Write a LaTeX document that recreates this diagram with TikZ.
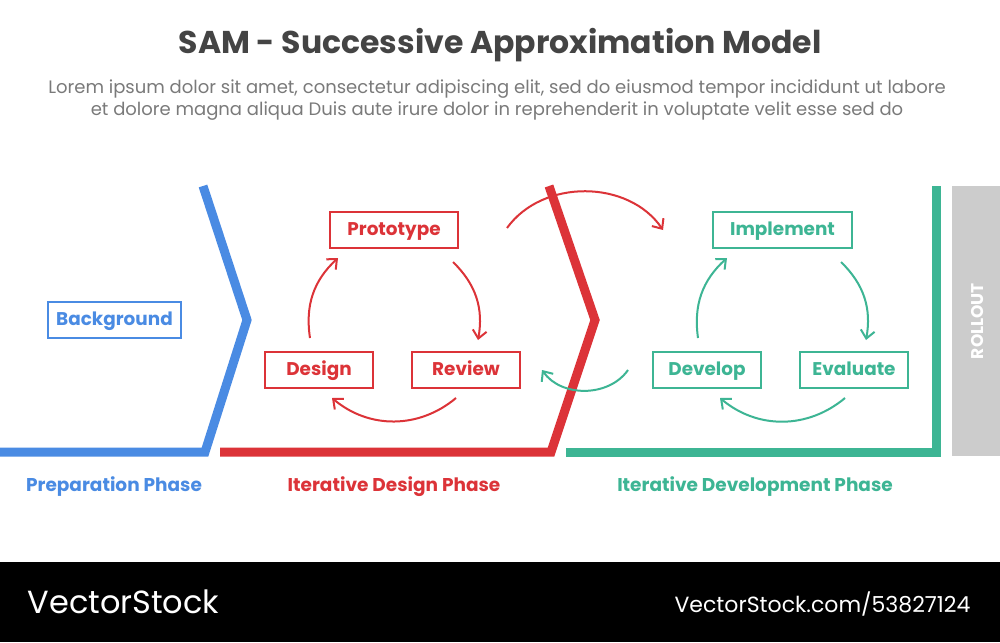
\documentclass[tikz,border=0pt]{standalone}
\usepackage{fontspec}
\setmainfont{Poppins}
\usetikzlibrary{arrows.meta}
\definecolor{cb}{HTML}{4A8BE3}
\definecolor{cr}{HTML}{DC3338}
\definecolor{cg}{HTML}{3DB594}
\definecolor{cgray}{HTML}{CCCCCC}
\definecolor{ct}{HTML}{444444}
\definecolor{cs}{HTML}{7A7A7A}
\begin{document}
\begin{tikzpicture}[x=1pt,y=-1pt,
  box/.style={draw,line width=1.5pt,minimum height=36pt,inner sep=0pt,text height=13pt,text depth=3pt,font=\fontsize{18.4}{18}\selectfont\bfseries},
  phase/.style={line width=9pt,line join=miter},
  cyc/.style={line width=2pt,-{Straight Barb[length=8pt,width=14pt,line width=2pt]}},
  lbl/.style={font=\fontsize{18.5}{18}\selectfont\bfseries}]
\useasboundingbox (0,0) rectangle (1000,642);
\fill[white] (0,0) rectangle (1000,642);
\node[font=\fontsize{31.5}{31}\selectfont\bfseries,text=ct] (title) at (500,45) {SAM - Successive Approximation Model};
\node[font=\fontsize{18}{22}\selectfont,text=cs,align=center] (sub) at (497,100) {Lorem ipsum dolor sit amet, consectetur adipiscing elit, sed do eiusmod tempor incididunt ut labore\\et dolore magna aliqua Duis aute irure dolor in reprehenderit in voluptate velit esse sed do};
% phases
\draw[phase,cb] (203,186) -- (247,320) -- (205,452) -- (0,452);
\draw[phase,cr] (220,452) -- (551,452) -- (595,320) -- (549,186);
\draw[phase,cg] (566,452) -- (936,452) -- (936,186);
\fill[cgray] (952,186) rectangle (1000,456);
\node[rotate=90,text=white,font=\fontsize{17}{17}\selectfont\bfseries] (roll) at (977,321) {ROLLOUT};
% boxes
\node[box,cb,text=cb,minimum width=133pt] (bg) at (114.5,320) {Background};
\node[box,cr,text=cr,minimum width=128pt] (proto) at (394,230) {Prototype};
\node[box,cr,text=cr,minimum width=108pt] (design) at (319,370) {Design};
\node[box,cr,text=cr,minimum width=108pt] (review) at (466,370) {Review};
\node[box,cg,text=cg,minimum width=139pt] (impl) at (782.5,230) {Implement};
\node[box,cg,text=cg,minimum width=108pt] (dev) at (707,370) {Develop};
\node[box,cg,text=cg,minimum width=108pt] (eval) at (854,370) {Evaluate};
% cycles
\coordinate (a1) at (310,338); \coordinate (a2) at (338,258);
\coordinate (b1) at (453,262); \coordinate (b2) at (478,340);
\coordinate (c1) at (456,398); \coordinate (c2) at (332,398);
\draw[cyc,cr] (a1) to[bend left=28] (a2);
\draw[cyc,cr] (b1) to[bend left=28] (b2);
\draw[cyc,cr] (c1) to[bend left=40] (c2);
\coordinate (d1) at (698,338); \coordinate (d2) at (727,258);
\coordinate (e1) at (841,262); \coordinate (e2) at (866,340);
\coordinate (f1) at (845,398); \coordinate (f2) at (720,398);
\draw[cyc,cg] (d1) to[bend left=28] (d2);
\draw[cyc,cg] (e1) to[bend left=28] (e2);
\draw[cyc,cg] (f1) to[bend left=40] (f2);
\coordinate (g1) at (507,228); \coordinate (g2) at (663,230);
\draw[cyc,cr] (g1) to[bend left=55] (g2);
\coordinate (h1) at (628,370); \coordinate (h2) at (542,370);
\draw[cyc,cg] (h1) to[bend left=55] (h2);
% labels
\node[lbl,text=cb] (l1) at (114,487) {Preparation Phase};
\node[lbl,text=cr] (l2) at (394,487) {Iterative Design Phase};
\node[lbl,text=cg] (l3) at (755,487) {Iterative Development Phase};
% footer
\fill[black] (0,562) rectangle (1000,642);
\node[anchor=west,text=white,font=\fontsize{32}{32}\selectfont] (vs) at (24,602) {VectorStock};
\node[anchor=east,text=white,font=\fontsize{22}{22}\selectfont] (vsu) at (974,604) {VectorStock.com/53827124};
\end{tikzpicture}
\end{document}
